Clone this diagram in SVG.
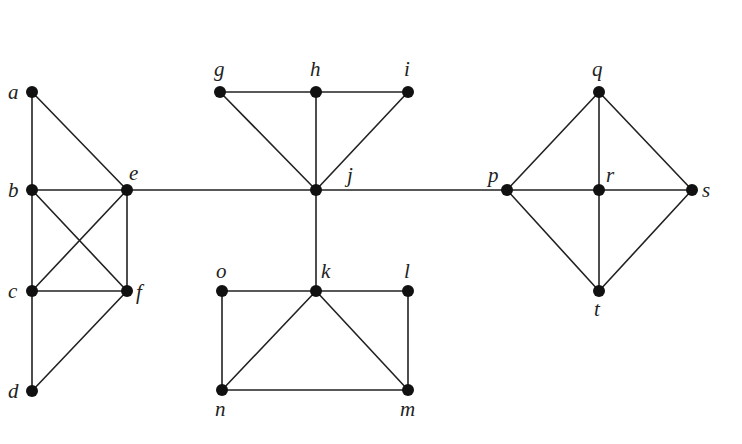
<svg xmlns="http://www.w3.org/2000/svg" width="742" height="444" viewBox="0 0 742 444">
<style>
.e{stroke:#222;stroke-width:1.6;fill:none}
.n{fill:#111}
text{font-family:"Liberation Serif",serif;font-style:italic;font-size:21px;fill:#222}
</style>
<rect width="742" height="444" fill="#fff"/>
<g id="connectors" class="e">
<path d="M32 92L32 391M32 92L127 190M32 190L507 190M32 190L127 291M32 291L127 190M32 291L127 291M32 391L127 291M127 190L127 291"/>
<path d="M220 92L408 92M220 92L316 190M316 92L316 291M408 92L316 190"/>
<path d="M222 291L408 291M222 291L222 390M316 291L222 390M316 291L408 390M408 291L408 390M222 390L408 390"/>
<path d="M507 190L692 190M507 190L599 92M507 190L599 291M599 92L599 291M599 92L692 190M599 291L692 190"/>
</g>
<g id="a"><circle class="n" cx="32" cy="92" r="6"/><text x="8" y="99">a</text></g>
<g id="b"><circle class="n" cx="32" cy="190" r="6"/><text x="8" y="197">b</text></g>
<g id="c"><circle class="n" cx="32" cy="291" r="6"/><text x="8" y="298">c</text></g>
<g id="d"><circle class="n" cx="32" cy="391" r="6"/><text x="8" y="398">d</text></g>
<g id="e"><circle class="n" cx="127" cy="190" r="6"/><text x="129" y="180">e</text></g>
<g id="f"><circle class="n" cx="127" cy="291" r="6"/><text x="136" y="299">f</text></g>
<g id="g"><circle class="n" cx="220" cy="92" r="6"/><text x="214" y="76">g</text></g>
<g id="h"><circle class="n" cx="316" cy="92" r="6"/><text x="310" y="76">h</text></g>
<g id="i"><circle class="n" cx="408" cy="92" r="6"/><text x="404" y="76">i</text></g>
<g id="j"><circle class="n" cx="316" cy="190" r="6"/><text x="347" y="182">j</text></g>
<g id="k"><circle class="n" cx="316" cy="291" r="6"/><text x="321" y="278">k</text></g>
<g id="o"><circle class="n" cx="222" cy="291" r="6"/><text x="216" y="278">o</text></g>
<g id="l"><circle class="n" cx="408" cy="291" r="6"/><text x="404" y="278">l</text></g>
<g id="n"><circle class="n" cx="222" cy="390" r="6"/><text x="215" y="416">n</text></g>
<g id="m"><circle class="n" cx="408" cy="390" r="6"/><text x="400" y="416">m</text></g>
<g id="p"><circle class="n" cx="507" cy="190" r="6"/><text x="488" y="182">p</text></g>
<g id="q"><circle class="n" cx="599" cy="92" r="6"/><text x="592" y="76">q</text></g>
<g id="r"><circle class="n" cx="599" cy="190" r="6"/><text x="606" y="182">r</text></g>
<g id="s"><circle class="n" cx="692" cy="190" r="6"/><text x="702" y="197">s</text></g>
<g id="t"><circle class="n" cx="599" cy="291" r="6"/><text x="594" y="316">t</text></g>
</svg>
